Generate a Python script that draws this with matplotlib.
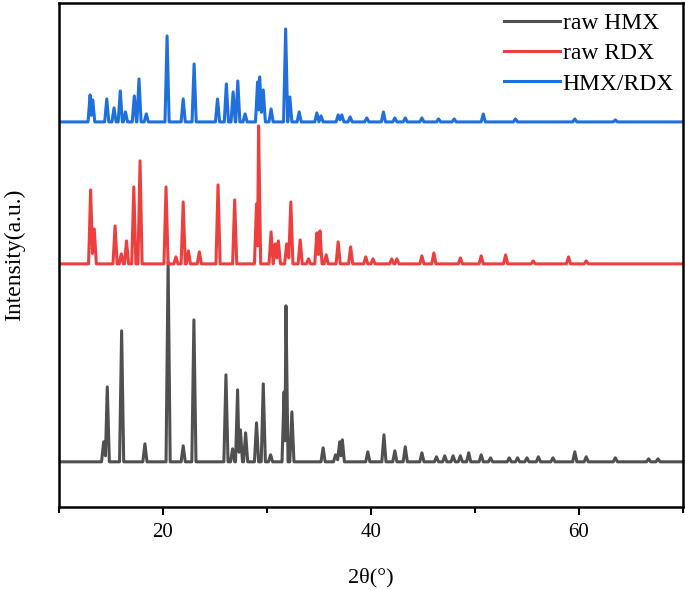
import numpy as np
import matplotlib
matplotlib.use("Agg")
import matplotlib.pyplot as plt
from matplotlib.ticker import MultipleLocator

plt.rcParams["font.family"] = ["Liberation Serif", "DejaVu Serif"]

# peak positions (2theta, deg) and heights (a.u.)
hmx_pos = [14.3, 14.65, 16.03, 18.27, 20.5, 21.95, 22.98, 26.06, 26.7, 27.18,
           27.45, 27.95, 29.0, 29.65, 30.35, 31.65, 31.83, 32.4, 35.4, 36.6,
           37.0, 37.25, 39.7, 41.25, 42.3, 43.3, 44.9, 46.3, 47.1, 47.9, 48.6,
           49.4, 50.6, 51.5, 53.3, 54.1, 55.0, 56.1, 57.5, 59.6, 60.7, 63.5,
           66.7, 67.6]
hmx_h = [20, 75, 131, 18, 200, 16, 142, 87, 13, 72,
         32, 29, 39, 78, 7, 70, 156, 50, 14, 7,
         20, 22, 10, 27, 11, 15, 9, 5, 6, 6, 6,
         9, 7, 4, 4, 4, 4, 5, 4, 10, 5, 4,
         3, 3]

rdx_pos = [13.05, 13.4, 15.4, 16.0, 16.5, 17.2, 17.8, 20.3, 21.25, 21.95,
           22.45, 23.5, 25.3, 26.9, 29.0, 29.2, 30.4, 30.8, 31.1, 31.9, 32.3,
           33.2, 34.0, 34.8, 35.1, 35.7, 36.85, 38.05, 39.5, 40.2, 42.0, 42.5,
           44.9, 46.05, 48.6, 50.6, 52.95, 55.6, 59.0, 60.7]
rdx_h = [74, 35, 38, 10, 23, 77, 103, 77, 7, 62,
         13, 12, 79, 64, 60, 138, 32, 20, 23, 20, 62,
         24, 5, 31, 33, 9, 22, 17, 7, 5, 5, 5,
         8, 11, 6, 8, 9, 3, 7, 3]

mix_pos = [13.0, 13.25, 14.6, 15.3, 15.9, 16.4, 17.25, 17.7, 18.4, 20.4,
           21.95, 23.0, 25.25, 26.1, 26.75, 27.2, 27.9, 29.1, 29.3, 29.65,
           30.4, 31.8, 32.2, 33.1, 34.8, 35.2, 36.85, 37.2, 38.0, 39.6, 41.2,
           42.3, 43.3, 44.9, 46.5, 48.0, 50.8, 53.9, 59.6, 63.5]
mix_h = [27, 22, 23, 14, 31, 10, 26, 43, 8, 86,
         23, 58, 23, 38, 30, 41, 8, 40, 45, 32,
         13, 93, 25, 10, 9, 6, 7, 7, 5, 4, 10,
         4, 4, 4, 3, 3, 8, 3, 3, 2]

labels = ["raw HMX", "raw RDX", "HMX/RDX"]
offsets = [45, 243, 385]
colors = ["#505050", "#ee3f3f", "#1f6fdc"]


def pattern(pos, h, w=0.2, x0=10, x1=70):
    # polyline: baseline -> peak top -> baseline, valleys between close peaks
    xs, ys = [x0], [0.0]
    for i, (p, a) in enumerate(zip(pos, h)):
        if i > 0 and p - pos[i - 1] < 2 * w:
            xs[-1] = 0.5 * (p + pos[i - 1])
            ys[-1] = 0.3 * min(a, h[i - 1])
        else:
            xs.append(p - w)
            ys.append(0.0)
        xs.append(p)
        ys.append(a)
        xs.append(p + w)
        ys.append(0.0)
    xs.append(x1)
    ys.append(0.0)
    return np.array(xs), np.array(ys)


fig = plt.figure(figsize=(6.85, 5.9), dpi=100)
ax = fig.add_axes([0.086, 0.141, 0.911, 0.854])

for (pos, h), off, c, lab in zip([(hmx_pos, hmx_h), (rdx_pos, rdx_h), (mix_pos, mix_h)],
                                 offsets, colors, labels):
    x, y = pattern(pos, h)
    ax.plot(x, y + off, color=c, lw=2.2, label=lab)

ax.set_xlim(10, 70)
ax.set_ylim(0, 504)
ax.xaxis.set_major_locator(MultipleLocator(20))
ax.xaxis.set_minor_locator(MultipleLocator(10))
ax.set_yticks([])
ax.tick_params(axis="x", which="major", direction="out", length=6, width=1.5, labelsize=15, pad=6)
ax.tick_params(axis="x", which="minor", direction="out", length=4, width=1.5)
for s in ax.spines.values():
    s.set_linewidth(1.8)

ax.set_xlabel("2θ(°)", fontsize=16, labelpad=18)
ax.set_ylabel("Intensity(a.u.)", fontsize=17, labelpad=24)

ax.legend(loc="upper right", bbox_to_anchor=(1.012, 1.013), frameon=False, fontsize=17,
          handlelength=2.4, handletextpad=0.1, labelspacing=0.36, borderaxespad=0.3)

fig.savefig("out.png", dpi=100)
